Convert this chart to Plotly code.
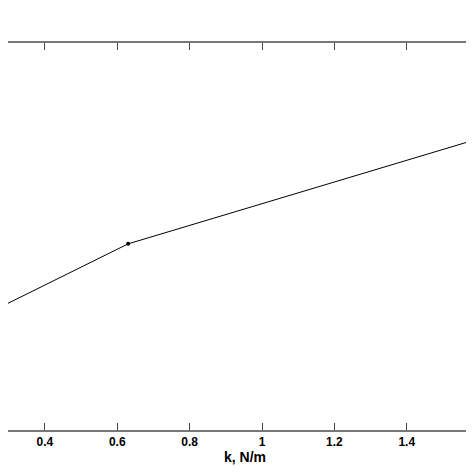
import plotly.graph_objects as go

k = [0.2, 0.63, 1.7]
val = [0.282, 0.481, 0.781]
tickvals = [0.4, 0.6, 0.8, 1.0, 1.2, 1.4, 1.6]
ticktext = ["<b>0.4</b>", "<b>0.6</b>", "<b>0.8</b>", "<b>1</b>", "<b>1.2</b>", "<b>1.4</b>", "<b>1.6</b>"]

fig = go.Figure(go.Scatter(x=k, y=val, mode="lines+markers",
                           line=dict(color="black", width=1),
                           marker=dict(color="black", size=4)))
fig.update_layout(width=474, height=474,
                  margin=dict(l=0, r=0, t=35, b=52, autoexpand=False),
                  plot_bgcolor="white", paper_bgcolor="white", showlegend=False,
                  font=dict(family="Liberation Sans, Arial", size=12, color="black"))
fig.update_xaxes(range=[0.298, 1.608], tickvals=tickvals, ticktext=ticktext,
                 ticks="inside", ticklen=7, tickcolor="#444", showline=True,
                 linecolor="#777", linewidth=1.5, mirror="ticks", showgrid=False,
                 zeroline=False, title=dict(text="<b>k, N/m</b>", standoff=2))
fig.update_yaxes(range=[0, 1], visible=False, showgrid=False)
fig.write_html("out.html")
